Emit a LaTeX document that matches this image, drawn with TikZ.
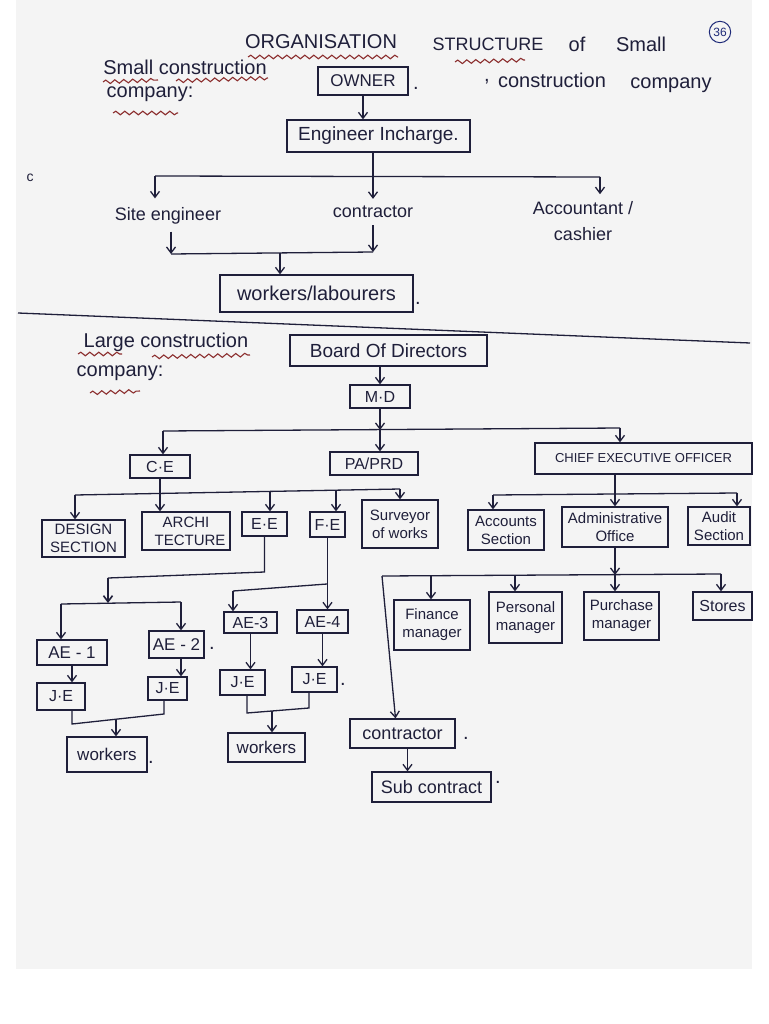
\documentclass[tikz,border=0pt]{standalone}
\usepackage{fontspec}
\setmainfont{Liberation Sans}
\usetikzlibrary{arrows.meta,decorations.pathmorphing,calc}
\definecolor{inkc}{HTML}{1F1F3A}
\definecolor{wavc}{HTML}{8C2F2F}
\definecolor{paperc}{HTML}{F4F4F4}
\definecolor{numc}{HTML}{1E2A78}
\newcommand\fsz[2]{\fontsize{#1}{#2}\selectfont}
\tikzset{
 box/.style={draw=inkc, line width=1.3pt, text=inkc, inner sep=1pt, align=center, font=\fsz{15}{18}},
 lbl/.style={text=inkc, inner sep=1pt, align=center, font=\fsz{18}{26}},
 ttl/.style={text=inkc, inner sep=1pt, font=\fsz{20}{22}},
 link/.style={draw=inkc, line width=1.3pt},
 arr/.style={link, -{Straight Barb[length=6pt,width=9pt]}},
 wav/.style={draw=wavc, line width=1.1pt, decorate, decoration={snake, segment length=9pt, amplitude=1.8pt}},
}
\begin{document}
\begin{tikzpicture}[x=1pt,y=-1pt]
\useasboundingbox (0,0) rectangle (768,1024);
\fill[white] (0,0) rectangle (768,1024);
\fill[paperc] (16,0) rectangle (752,969);

% ---------- headings ----------
\node[ttl] (t1) at (321,42) {ORGANISATION};
\node[ttl,font=\fsz{18}{20}] (t2) at (488,44) {STRUCTURE};
\node[ttl] (t3) at (577,44) {of};
\node[ttl] (t4) at (641,44) {Small};
\node[ttl] (t0) at (487,82) {,};
\node[ttl] (t5) at (552,80) {construction};
\node[ttl] (t6) at (671,85) {company};
\node[circle,draw=numc,line width=1pt,inner sep=2pt,text=numc,font=\fsz{12}{13}] (pg) at (720,32) {36};
\node[ttl] (s1) at (185,67) {Small construction};
\node[ttl] (s2) at (150,94) {company:};
\node[ttl,font=\fsz{14}{16}] (cm) at (30,178) {c};
\draw[wav] (248,57) -- (398,57);
\draw[wav] (455,62) -- (525,60);
\draw[wav] (103,82) -- (158,80);
\draw[wav] (176,81) -- (268,78);
\draw[wav] (113,113) -- (178,113);

% ---------- small company ----------
\node[box,minimum width=90,minimum height=28,font=\fsz{17}{19}] (owner) at (363,81) {OWNER};
\node[ttl] (d1) at (416,88) {.};
\node[box,minimum width=183,minimum height=32,font=\fsz{19}{21}] (eng) at (378.5,136) {Engineer Incharge.};
\node[lbl] (site) at (168,216) {Site engineer};
\node[lbl] (contr) at (373,212) {contractor};
\node[lbl] (acct) at (583,221) {Accountant /\\cashier};
\node[box,minimum width=193,minimum height=37,font=\fsz{20}{22}] (wl) at (316.5,293.5) {workers/labourers};
\node[ttl] (d2) at (418,303) {.};

\draw[arr] (owner.south) -- (owner.south |- eng.north);
\coordinate (bL) at (155,176);
\coordinate (bR) at (600,177);
\draw[link] (bL) -- (bR);
\draw[arr] (bL) -- ([yshift=8pt]bL |- site.north);
\draw[arr] (eng.south -| contr) -- ([yshift=6pt]contr.north);
\draw[arr] (bR) -- ([yshift=6pt]bR |- acct.north);
\coordinate (sb1) at (171,254);
\coordinate (sb2) at (373,252);
\draw[arr] ([yshift=-6pt]site.south -| sb1) -- (sb1);
\draw[arr] ([yshift=-6pt]contr.south) -- (sb2);
\draw[link] (sb1) -- (sb2);
\coordinate (sbm) at (280,253);
\draw[arr] (sbm) -- (sbm |- wl.north);

% separator
\draw[link] (18,313) -- (750,343);

% ---------- large company ----------
\node[ttl] (l1) at (166,342) {Large construction};
\node[ttl] (l2) at (120,373) {company:};
\draw[wav] (78,354) -- (122,354);
\draw[wav] (152,357) -- (250,355);
\draw[wav] (90,393) -- (140,391);

\node[box,minimum width=197,minimum height=31,font=\fsz{19}{21}] (bod) at (388.5,350.5) {Board Of Directors};
\node[box,minimum width=60,minimum height=23,font=\fsz{16}{18}] (md) at (380,396.5) {M·D};
\node[box,minimum width=60,minimum height=23,font=\fsz{16}{18}] (ce) at (160,466.5) {C·E};
\node[box,minimum width=88,minimum height=23,font=\fsz{16}{18}] (pa) at (374,463.5) {PA/PRD};
\node[box,minimum width=217,minimum height=31,font=\fsz{13}{15}] (ceo) at (643.5,458.5) {CHIEF EXECUTIVE OFFICER};

\draw[arr] (bod.south -| md) -- (md.north);
\coordinate (mL) at (163,431);
\coordinate (mR) at (620,428);
\coordinate (mM) at (380,430);
\draw[link] (mL) -- (mR);
\draw[arr] (md.south) -- (mM);
\draw[arr] (mM) -- (mM |- pa.north);
\draw[arr] (mL) -- (mL |- ce.north);
\draw[arr] (mR) -- (mR |- ceo.north);

% C.E subtree
\node[box,minimum width=83,minimum height=37] (design) at (83.5,538.5) {DESIGN\\SECTION};
\node[box,minimum width=88,minimum height=38] (archi) at (186,531) {ARCHI\\\hspace*{8pt}TECTURE};
\node[box,minimum width=45,minimum height=24,font=\fsz{16}{18}] (ee) at (264.5,524) {E·E};
\node[box,minimum width=35,minimum height=25,font=\fsz{16}{18}] (fe) at (327.5,524.5) {F·E};
\node[box,minimum width=76,minimum height=48] (surv) at (400,524) {Surveyor\\of works};

\coordinate (cL) at (75,495);
\coordinate (cE) at (270,491);
\coordinate (cF) at (336,490);
\coordinate (cR) at (400,489);
\draw[link] (cL) -- (cR);
\draw[arr] (ce.south) -- (ce.south |- archi.north);
\draw[arr] (cL) -- (cL |- design.north);
\draw[arr] (cE) -- (cE |- ee.north);
\draw[arr] (cF) -- (cF |- fe.north);
\draw[arr] (cR) -- (cR |- surv.north);

% E.E branch
\node[box,minimum width=70,minimum height=25,font=\fsz{17}{19}] (ae1) at (72,652.5) {AE - 1};
\node[box,minimum width=55,minimum height=27,font=\fsz{17}{19}] (ae2) at (176.5,644.5) {AE - 2};
\node[ttl] (d3) at (212,648) {.};
\node[box,minimum width=48,minimum height=27,font=\fsz{16}{18}] (je1) at (61,696.5) {J·E};
\node[box,minimum width=39,minimum height=23,font=\fsz{16}{18}] (je2) at (167.5,688.5) {J·E};
\node[box,minimum width=80,minimum height=35,font=\fsz{17}{19}] (wk1) at (107,754.5) {workers};
\node[ttl] (d4) at (151,762) {.};

\coordinate (e1) at (265,572);
\coordinate (e2) at (108,578);
\coordinate (a12) at (108,603);
\draw[link] (ee.south) -- (ee.south |- e1) -- (e2);
\draw[arr, line width=1.6pt] (e2) -- (a12);
\coordinate (aL) at (61,604);
\coordinate (aR) at (181,602);
\draw[link] (aL) -- (aR);
\draw[arr] (aL) -- (aL |- ae1.north);
\draw[arr] (aR) -- (aR |- ae2.north);
\draw[arr] (ae1.south) -- (ae1.south |- je1.north);
\draw[arr] (ae2.south -| aR) -- (aR |- je2.north);
\coordinate (w1a) at (72,724);
\coordinate (w1b) at (164,714);
\draw[link] (je1.south -| w1a) -- (w1a) -- (w1b) -- (je2.south -| w1b);
\coordinate (w1m) at (116,719);
\draw[arr] (w1m) -- (w1m |- wk1.north);

% F.E branch
\node[box,minimum width=53,minimum height=21,font=\fsz{16}{18}] (ae3) at (250.5,622.5) {AE-3};
\node[box,minimum width=51,minimum height=23,font=\fsz{16}{18}] (ae4) at (322.5,621.5) {AE-4};
\node[box,minimum width=45,minimum height=25,font=\fsz{16}{18}] (je3) at (242.5,682.5) {J·E};
\node[box,minimum width=45,minimum height=25,font=\fsz{16}{18}] (je4) at (314.5,679.5) {J·E};
\node[ttl] (d5) at (343,684) {.};
\node[box,minimum width=77,minimum height=29,font=\fsz{17}{19}] (wk2) at (266.5,747.5) {workers};

\coordinate (f1) at (327,584);
\coordinate (f2) at (233,591);
\draw[arr] (fe.south) -- (fe.south |- ae4.north);
\draw[link] (f1) -- (f2);
\draw[arr] (f2) -- (f2 |- ae3.north);
\draw[arr] (ae3.south) -- (ae3.south |- je3.north);
\draw[arr] (ae4.south) -- (ae4.south |- je4.north);
\coordinate (w2a) at (247,713);
\coordinate (w2b) at (309,708);
\draw[link] (je3.south -| w2a) -- (w2a) -- (w2b) -- (je4.south -| w2b);
\coordinate (w2m) at (272,711);
\draw[arr] (w2m) -- (w2m |- wk2.north);

% CEO subtree
\node[box,minimum width=76,minimum height=40] (acc) at (506,530) {Accounts\\Section};
\node[box,minimum width=106,minimum height=40] (adm) at (615,527) {Administrative\\Office};
\node[box,minimum width=62,minimum height=38] (aud) at (719,526) {Audit\\Section};

\coordinate (oL) at (493,495);
\coordinate (oR) at (737,493);
\draw[link] (oL) -- (oR);
\draw[arr] (adm |- ceo.south) -- (adm.north);
\draw[arr] (oL) -- (oL |- acc.north);
\draw[arr] (oR) -- (oR |- aud.north);

\node[box,minimum width=76,minimum height=50] (fin) at (432,625) {Finance\\manager};
\node[box,minimum width=73,minimum height=51] (per) at (525.5,617.5) {Personal\\manager};
\node[box,minimum width=75,minimum height=48] (pur) at (621.5,616) {Purchase\\manager};
\node[box,minimum width=59,minimum height=28,font=\fsz{16}{18}] (sto) at (722.5,606) {Stores};
\node[box,minimum width=105,minimum height=29,font=\fsz{18}{20}] (con) at (402.5,733.5) {contractor};
\node[ttl] (d6) at (466,738) {.};
\node[box,minimum width=119,minimum height=30,font=\fsz{18}{20}] (sub) at (431.5,787) {Sub contract};
\node[ttl] (d7) at (498,782) {.};

\coordinate (pL) at (382,576);
\coordinate (pf) at (431,576);
\coordinate (pp) at (515,575);
\coordinate (pM) at (615,575);
\coordinate (pR) at (721,574);
\draw[link] (pL) -- (pR);
\draw[arr] (adm.south) -- (pM);
\draw[arr] (pM) -- (pM |- pur.north);
\draw[arr] (pf) -- (pf |- fin.north);
\draw[arr] (pp) -- (pp |- per.north);
\draw[arr] (pR) -- (pR |- sto.north);
\draw[arr] (pL) -- ([xshift=-7pt]con.north);
\draw[arr] ([xshift=5pt]con.south) -- ([xshift=5pt]con.south |- sub.north);
\end{tikzpicture}
\end{document}
